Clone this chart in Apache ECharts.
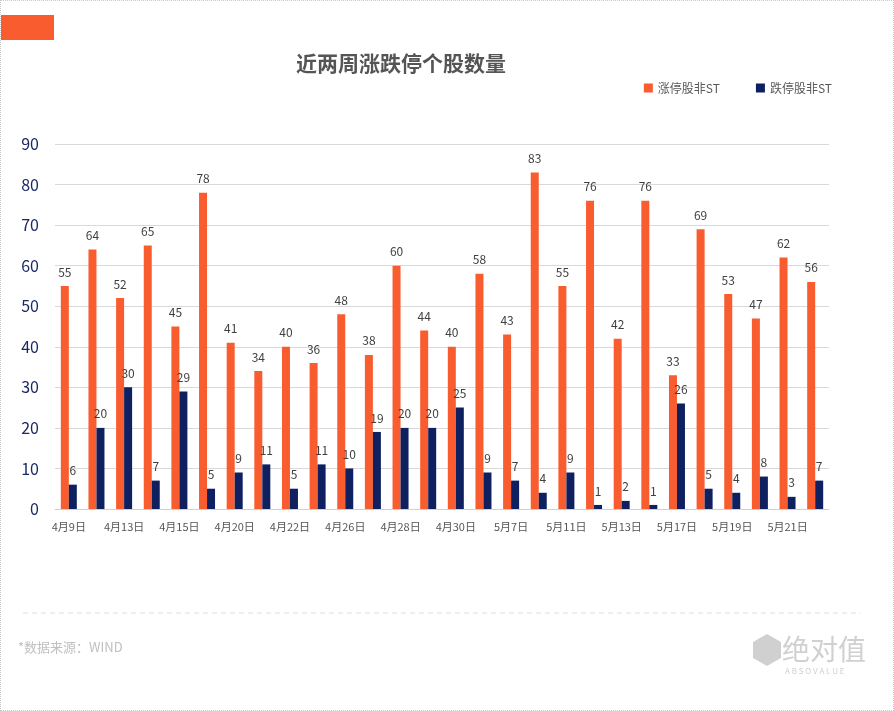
<!DOCTYPE html>
<html>
<head>
<meta charset="utf-8">
<script src="https://cdn.jsdelivr.net/npm/echarts@6/dist/echarts.min.js"></script>
<style>
    html, body { margin: 0; padding: 0; background: #fff; }
    #chart { width: 892px; height: 709px; border: 1px dotted #c8c8c8; }
</style>
</head>
<body>
<div id="chart"></div>
<script>
'use strict';

// 日期（每隔一个显示）
let dates = ['4月9日', '4月12日', '4月13日', '4月14日', '4月15日', '4月16日', '4月20日',
    '4月21日', '4月22日', '4月23日', '4月26日', '4月27日', '4月28日', '4月29日',
    '4月30日', '5月6日', '5月7日', '5月10日', '5月11日', '5月12日', '5月13日',
    '5月14日', '5月17日', '5月18日', '5月19日', '5月20日', '5月21日', '5月24日'];
// 涨停股非ST
let upLimit = [55, 64, 52, 65, 45, 78, 41, 34, 40, 36, 48, 38, 60, 44, 40, 58, 43,
    83, 55, 76, 42, 76, 33, 69, 53, 47, 62, 56];
// 跌停股非ST
let downLimit = [6, 20, 30, 7, 29, 5, 9, 11, 5, 11, 10, 19, 20, 20, 25, 9, 7,
    4, 9, 1, 2, 1, 26, 5, 4, 8, 3, 7];
let yTicks = [0, 10, 20, 30, 40, 50, 60, 70, 80, 90];

let font = '"Noto Sans CJK SC", "Microsoft YaHei", sans-serif';
let myChart = echarts.init(document.getElementById('chart'));

let option = {
    backgroundColor: '#fff',
    textStyle: { fontFamily: font },
    animation: false,
    title: {
        text: '近两周涨跌停个股数量',
        left: 395,
        top: 47,
        textAlign: 'center',
        textStyle: { fontSize: 21, fontWeight: 'bold', color: '#555', fontFamily: font }
    },
    legend: {
        right: 56,
        top: 76,
        itemWidth: 9,
        itemHeight: 9,
        itemGap: 36,
        icon: 'rect',
        textStyle: { fontSize: 12, color: '#595959', fontFamily: font }
    },
    grid: {
        left: 54,
        right: 64,
        top: 143,
        bottom: 201
    },
    xAxis: {
        type: 'category',
        data: dates,
        axisLine: { lineStyle: { color: '#d0d0d0' } },
        axisTick: { show: false },
        axisLabel: {
            interval: 1,
            fontSize: 11,
            color: '#555',
            margin: 12,
            fontFamily: font
        }
    },
    yAxis: {
        type: 'value',
        min: yTicks[0],
        max: yTicks[yTicks.length - 1],
        interval: 10,
        axisLine: { show: false },
        axisTick: { show: false },
        splitLine: { lineStyle: { color: '#d9d9d9' } },
        axisLabel: {
            fontSize: 16,
            color: '#1a2766',
            margin: 16,
            fontFamily: font
        }
    },
    series: [
        {
            name: '涨停股非ST',
            type: 'bar',
            data: upLimit,
            barWidth: 8,
            barGap: '0%',
            itemStyle: { color: '#f95d2f' },
            label: {
                show: true,
                position: 'top',
                distance: 8,
                fontSize: 12,
                color: '#404040',
                fontFamily: font
            }
        },
        {
            name: '跌停股非ST',
            type: 'bar',
            data: downLimit,
            barWidth: 8,
            itemStyle: { color: '#0e2060' },
            label: {
                show: true,
                position: 'top',
                distance: 8,
                fontSize: 12,
                color: '#404040',
                fontFamily: font
            }
        }
    ],
    graphic: [
        {
            type: 'rect',
            left: 0,
            top: 14,
            shape: { width: 53, height: 25 },
            style: { fill: '#f95d2f' }
        },
        {
            type: 'line',
            shape: { x1: 22, y1: 612, x2: 860, y2: 612 },
            style: { stroke: '#dcdcdc', lineWidth: 1, lineDash: [5, 4] }
        },
        {
            type: 'text',
            left: 17,
            top: 640,
            style: { text: '*数据来源：WIND', fontSize: 13, fill: '#c0c0c0', fontFamily: font }
        },
        {
            type: 'polygon',
            shape: { points: [[766, 633], [780, 641], [780, 657], [766, 665], [752, 657], [752, 641]] },
            style: { fill: '#d0d0d0' }
        },
        {
            type: 'text',
            left: 781,
            top: 634,
            style: { text: '绝对值', fontSize: 28, fill: '#d0d0d0', fontFamily: font }
        },
        {
            type: 'text',
            left: 784,
            top: 666,
            style: { text: 'A B S O V A L U E', fontSize: 8, fill: '#cfcfcf', fontFamily: font }
        }
    ]
};

myChart.setOption(option);
</script>
</body>
</html>
